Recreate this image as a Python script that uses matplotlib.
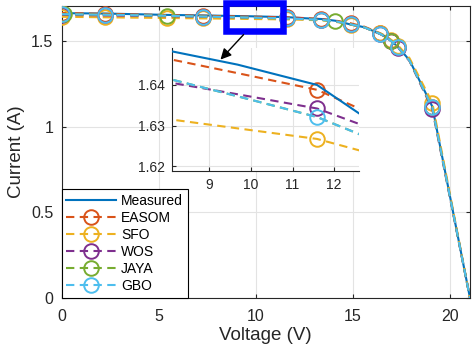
import matplotlib
matplotlib.use("Agg")
import matplotlib.pyplot as plt
from matplotlib.patches import Rectangle

plt.rcParams['font.family'] = ['Liberation Sans', 'DejaVu Sans']

# ---------------- data ----------------
voltage = [0, 0.118, 2.237, 5.434, 7.26, 9.68, 11.59, 12.6, 13.37, 14.09,
           14.88, 15.59, 16.4, 16.71, 16.98, 17.13, 17.32, 17.91, 19.08, 21.02]
measured = [1.663, 1.663, 1.661, 1.653, 1.650, 1.645, 1.640, 1.633, 1.629, 1.619,
            1.597, 1.581, 1.542, 1.524, 1.500, 1.485, 1.465, 1.388, 1.118, 0.0]
easom = [1.664, 1.664, 1.659, 1.652, 1.648, 1.6429, 1.6388, 1.6342, 1.629, 1.620,
         1.604, 1.584, 1.546, 1.526, 1.503, 1.488, 1.467, 1.389, 1.118, 0.0]
sfo = [1.642, 1.642, 1.639, 1.635, 1.6326, 1.6293, 1.6267, 1.6239, 1.621, 1.613,
       1.596, 1.580, 1.545, 1.528, 1.506, 1.492, 1.474, 1.400, 1.140, 0.0]
wos = [1.653, 1.653, 1.650, 1.645, 1.642, 1.6377, 1.6342, 1.6304, 1.626, 1.617,
       1.598, 1.580, 1.541, 1.522, 1.498, 1.483, 1.462, 1.383, 1.102, 0.0]
jaya = [1.657, 1.657, 1.654, 1.648, 1.6435, 1.6372, 1.6321, 1.6279, 1.624, 1.616,
        1.598, 1.580, 1.542, 1.523, 1.499, 1.484, 1.464, 1.386, 1.110, 0.0]
gbo = [1.657, 1.657, 1.654, 1.648, 1.6435, 1.6372, 1.6321, 1.6279, 1.624, 1.616,
       1.598, 1.580, 1.542, 1.523, 1.499, 1.484, 1.464, 1.386, 1.114, 0.0]

labels = ['Measured', 'EASOM', 'SFO', 'WOS', 'JAYA', 'GBO']
colors = ['#0072BD', '#D95319', '#EDB120', '#7E2F8E', '#77AC30', '#4DBEEE']
mark_idx = {
    'EASOM': [0, 2, 4, 6, 8, 10, 12, 14, 16, 18],
    'SFO': [0, 2, 3, 4, 6, 8, 10, 12, 14, 16, 18],
    'WOS': [0, 2, 4, 6, 8, 10, 12, 14, 16, 18],
    'JAYA': [1, 3, 9, 14],
    'GBO': [0, 2, 4, 6, 8, 10, 12, 16, 18],
}
series = [measured, easom, sfo, wos, jaya, gbo]

# ---------------- figure ----------------
W, H = 474, 353
fig = plt.figure(figsize=(W / 100, H / 100), dpi=100)

def fr(l, t, r, b):
    return [l / W, 1 - b / H, (r - l) / W, (b - t) / H]

ax = fig.add_axes(fr(61.5, 6, 470, 298))
lw = 1.5
dash = (4.0, 2.6)
msz = 10.5
mew = 1.4

def draw(a, inset=False):
    for k, (lab, col, ys) in enumerate(zip(labels, colors, series)):
        if lab == 'Measured':
            a.plot(voltage, ys, color=col, lw=lw, label=lab,
                   zorder=10 if inset else 2)
        else:
            a.plot(voltage, ys, color=col, lw=lw, dashes=dash, marker='o',
                   markersize=msz, markerfacecolor='none', markeredgewidth=mew,
                   markevery=mark_idx[lab], label=lab, zorder=3 + k)

draw(ax)
ax.set_xlim(0, 21.02)
ax.set_ylim(0, 1.705)
ax.set_xticks([0, 5, 10, 15, 20])
ax.set_yticks([0, 0.5, 1, 1.5])
ax.set_yticklabels(['0', '0.5', '1', '1.5'])
ax.grid(True, color='#E3E3E3', lw=0.8)
ax.set_axisbelow(True)
ax.tick_params(direction='in', length=3, width=0.8, labelsize=11.5, colors='#262626',
               top=True, right=True, pad=6)
ax.tick_params(axis='x', pad=8)
for s in ax.spines.values():
    s.set_color('#262626')
    s.set_linewidth(0.8)
ax.set_xlabel('Voltage (V)', fontsize=13.5, color='#262626', labelpad=2)
ax.set_ylabel('Current (A)', fontsize=13.5, color='#262626', labelpad=4)

leg = ax.legend(loc='lower left', borderaxespad=0, fontsize=10, handlelength=3.6,
                handletextpad=0.35, labelspacing=0.22, borderpad=0.35,
                fancybox=False, framealpha=1, edgecolor='black')
leg.get_frame().set_linewidth(0.8)
leg.set_zorder(20)

# blue zoom rectangle
rx0, rx1, ry0, ry1 = 8.47, 11.42, 1.557, 1.722
ax.add_patch(Rectangle((rx0, ry0), rx1 - rx0, ry1 - ry0, fill=False,
                       edgecolor='#0000FF', lw=4.7, clip_on=False, zorder=30))

# inset
axi = fig.add_axes(fr(172, 48, 359, 171))
draw(axi, inset=True)
axi.set_xlim(8.1, 12.6)
axi.set_ylim(1.6188, 1.6491)
axi.set_xticks([9, 10, 11, 12])
axi.set_yticks([1.62, 1.63, 1.64])
axi.set_yticklabels(['1.62', '1.63', '1.64'])
axi.grid(True, color='#E3E3E3', lw=0.8)
axi.set_axisbelow(True)
axi.tick_params(direction='in', length=3, width=0.8, labelsize=10, colors='#262626', pad=5)
axi.spines['top'].set_visible(False)
axi.spines['right'].set_visible(False)
for s in ['left', 'bottom']:
    axi.spines[s].set_color('#262626')
    axi.spines[s].set_linewidth(0.8)
axi.set_zorder(15)

# arrow (drawn on the inset so it sits above it)
axi.annotate('', xy=(8.18, 1.392), xytext=(9.37, 1.538),
             xycoords=ax.transData, textcoords=ax.transData,
             arrowprops=dict(arrowstyle='-|>', color='black', lw=1.0, mutation_scale=16,
                             shrinkA=0, shrinkB=0),
             zorder=40, annotation_clip=False)

fig.savefig('out.png', dpi=100)
